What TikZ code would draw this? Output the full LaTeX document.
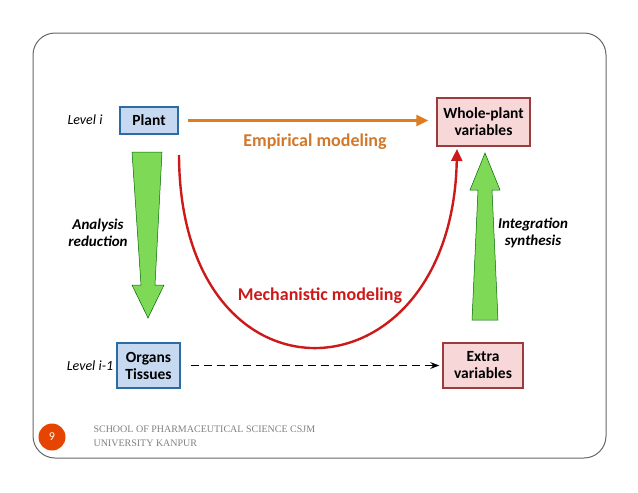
\documentclass[tikz,border=0pt]{standalone}
\usetikzlibrary{arrows.meta}
\usepackage{fontspec}
\setmainfont{Carlito}
\newfontfamily\footfont{Liberation Serif}
\definecolor{bfill}{HTML}{C6D9F1}
\definecolor{bdraw}{HTML}{2B6CA3}
\definecolor{pfill}{HTML}{F7D7D7}
\definecolor{pdraw}{HTML}{9B3B3B}
\definecolor{emp}{HTML}{E07B1E}
\definecolor{empt}{HTML}{D2782A}
\definecolor{mech}{HTML}{CC1A1A}
\definecolor{gfill}{HTML}{7ED957}
\begin{document}
\begin{tikzpicture}[x=1pt,y=-1pt,
  bx/.style={draw=#1,line width=1.3pt,align=center,font=\bfseries\fontsize{15.5}{17}\selectfont,inner sep=2pt},
  lvl/.style={font=\itshape\fontsize{14}{15}\selectfont},
  side/.style={font=\bfseries\itshape\fontsize{15}{17}\selectfont,align=center},
  garrow/.style={fill=gfill,draw=green!40!black,line width=0.5pt}]
\useasboundingbox (0,0) rectangle (638,493);
\draw[gray!80!black,line width=1pt,rounded corners=22pt] (33,33) rectangle (606,458);
\node[bx=bdraw,fill=bfill,minimum width=58pt,minimum height=27pt] (plant) at (149,120.5) {Plant};
\node[bx=pdraw,fill=pfill,minimum width=93pt,minimum height=48pt] (whole) at (483.5,122) {Whole-plant\\variables};
\node[bx=bdraw,fill=bfill,minimum width=63pt,minimum height=45pt] (organs) at (148.5,365.5) {Organs\\Tissues};
\node[bx=pdraw,fill=pfill,minimum width=80pt,minimum height=45pt] (extra) at (483,365.5) {Extra\\variables};
\node[lvl] (li) at (85,120) {Level i};
\node[lvl] (li1) at (90,366) {Level i-1};
\draw[-{Triangle[length=12pt,width=11pt]},emp,line width=2.8pt] ([xshift=9pt]plant.east) -- ([xshift=-8pt]whole.west|-plant.east);
\node[font=\bfseries\fontsize{18}{20}\selectfont,text=empt] (empn) at (315,142) {Empirical modeling};
\draw[line width=1.3pt,dash pattern=on 8pt off 5pt,-{Stealth[length=9pt]}] ([xshift=10pt]organs.east) -- ([xshift=-3pt]extra.west);
\draw[garrow] (132,152) -- (162,152) -- (155,285) -- (164,285) -- (148,318) -- (132,285) -- (141,285) -- cycle;
\draw[garrow] (472,320) -- (498,320) -- (492,190) -- (500,190) -- (485,153) -- (470,190) -- (478,190) -- cycle;
\node[side] (ana) at (98,233) {Analysis\\reduction};
\node[side] (int) at (533,233) {Integration\\synthesis};
\coordinate (cs) at (179,155);
\coordinate (ce) at (457,149);
\draw[mech,line width=2.4pt,-{Triangle[length=12pt,width=11pt]}] (cs) .. controls (180,418) and (452,405) .. (ce);
\node[font=\bfseries\fontsize{18}{20}\selectfont,text=mech] (mechn) at (320,296) {Mechanistic modeling};
\node[circle,fill=orange!60!red!90!black,minimum size=27pt,inner sep=0pt,text=white,font=\fontsize{12}{14}\selectfont] (num) at (52,437) {9};
\node[anchor=west,align=left,text=gray,font=\footfont\fontsize{10}{14}\selectfont] (foot) at (90,436) {SCHOOL OF PHARMACEUTICAL SCIENCE CSJM\\UNIVERSITY KANPUR};
\end{tikzpicture}
\end{document}
